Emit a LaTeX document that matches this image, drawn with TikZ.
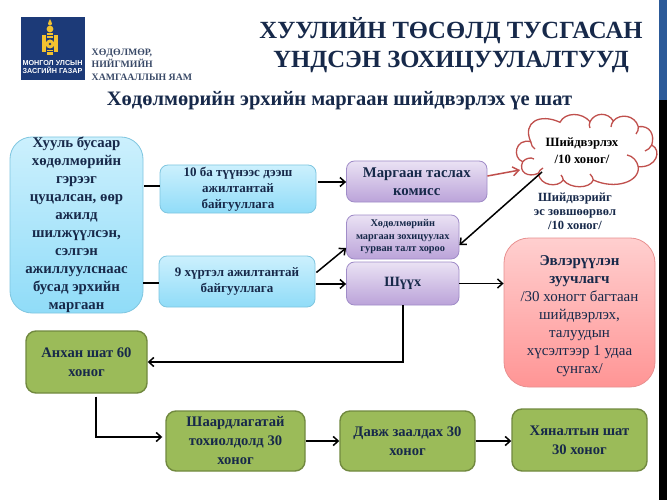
\documentclass[tikz,border=0pt]{standalone}
\usepackage{fontspec}
\setmainfont{Liberation Serif}
\newfontfamily\logosans{Liberation Sans}
\usetikzlibrary{arrows.meta,calc}
\definecolor{navy}{HTML}{17294A}
\definecolor{sidetxt}{HTML}{3A4A68}
\definecolor{logoblue}{HTML}{1C3A78}
\definecolor{logogold}{HTML}{F2C230}
\definecolor{cloudred}{HTML}{C0504D}
\definecolor{stripblue}{HTML}{2C5A98}
\definecolor{bluetop}{HTML}{CCF0FD}
\definecolor{bluebot}{HTML}{90DCF8}
\definecolor{blueedge}{HTML}{7FC6E0}
\definecolor{purpletop}{HTML}{EAE2F4}
\definecolor{purplebot}{HTML}{BBA3D9}
\definecolor{purpleedge}{HTML}{A08CC8}
\definecolor{pinktop}{HTML}{FFCFCF}
\definecolor{pinkbot}{HTML}{FF9595}
\definecolor{pinkedge}{HTML}{E89090}
\definecolor{greenfill}{HTML}{9BBB59}
\definecolor{greenedge}{HTML}{71893F}
\tikzset{
  x=1pt,y=-1pt,
  boxbase/.style={rounded corners=8pt,inner sep=0pt,align=center,text=navy,font=\bfseries\fontsize{13}{16}\selectfont,line width=0.8pt},
  bluebox/.style={boxbase,draw=blueedge,top color=bluetop,bottom color=bluebot},
  srcbox/.style={bluebox,rounded corners=22pt,font=\bfseries\fontsize{14.8}{18}\selectfont},
  purplebox/.style={boxbase,draw=purpleedge,top color=purpletop,bottom color=purplebot},
  pinkbox/.style={boxbase,rounded corners=25pt,draw=pinkedge,top color=pinktop,bottom color=pinkbot,font=\fontsize{15}{18}\selectfont},
  greenbox/.style={boxbase,rounded corners=10pt,draw=greenedge,line width=1.4pt,fill=greenfill,font=\bfseries\fontsize{14.6}{19}\selectfont},
  flow/.style={draw=black,line width=1.5pt,-{Straight Barb[length=5pt,width=9pt,line width=1.5pt]}},
  plainlink/.style={draw=black,line width=1.5pt},
  redflow/.style={draw=cloudred,line width=1.5pt,-{Straight Barb[length=6pt,width=9pt,line width=1.5pt]}},
  cloudline/.style={draw=cloudred,line width=1.3pt},
  plaintext/.style={inner sep=0pt,align=center},
}
\begin{document}
\begin{tikzpicture}
\useasboundingbox (0,0) rectangle (667,500);
\fill[white] (0,0) rectangle (667,500);
% side strip
\fill[black] (659,100) rectangle (667,500);
\fill[stripblue] (659,0) rectangle (667,100);
% logo
\fill[logoblue] (21,17) rectangle (85,80);
\fill[logogold] (42.3,35) rectangle (45.7,52);
\fill[logogold] (54.3,35) rectangle (57.7,52);
\fill[logogold] (50,44) circle (4.5);
\fill[logoblue] (50,44) circle (1.3);
\fill[logogold] (50,29) circle (3.4);
\fill[logogold] (50,23.5) circle (2);
\fill[logogold] (48.6,22) -- (50,19) -- (51.4,22) -- cycle;
\fill[logogold] (47,33.5) rectangle (53,35.5);
\fill[logogold] (47,36.5) rectangle (53,38);
\fill[logogold] (47,50) rectangle (53,51.5);
\fill[logogold] (47,52.5) rectangle (53,55);
\node[plaintext,text=white,font=\logosans\bfseries\fontsize{7.2}{8.4}\selectfont] (logotxt) at (52.5,67) {МОНГОЛ УЛСЫН\\ЗАСГИЙН ГАЗАР};
\node[plaintext,anchor=north west,align=left,text=sidetxt,font=\bfseries\fontsize{9.8}{12.5}\selectfont] (ministry) at (91.5,48.5) {ХӨДӨЛМӨР,\\НИЙГМИЙН\\ХАМГААЛЛЫН ЯАМ};
% titles
\node[plaintext,text=navy,font=\bfseries\fontsize{24.7}{29}\selectfont] (title) at (451,45.5) {ХУУЛИЙН ТӨСӨЛД ТУСГАСАН\\ҮНДСЭН ЗОХИЦУУЛАЛТУУД};
\node[plaintext,text=navy,font=\bfseries\fontsize{20.5}{24}\selectfont] (subtitle) at (339.5,101) {Хөдөлмөрийн эрхийн маргаан шийдвэрлэх үе шат};
% boxes
\node[srcbox,minimum width=133pt,minimum height=176pt] (src) at (76.5,225) {Хууль бусаар\\хөдөлмөрийн\\гэрээг\\цуцалсан, өөр\\ажилд\\шилжүүлсэн,\\сэлгэн\\ажиллуулснаас\\бусад эрхийн\\маргаан};
\node[bluebox,minimum width=156pt,minimum height=48pt] (ten) at (238,189) {10 ба түүнээс дээш\\ажилтантай\\байгууллага};
\node[bluebox,minimum width=156pt,minimum height=51pt] (nine) at (237,281.5) {9 хүртэл ажилтантай\\байгууллага};
\node[purplebox,minimum width=140.5pt,minimum height=41pt,font=\bfseries\fontsize{14.8}{18.3}\selectfont] (comm) at (416.75,181.5) {Маргаан таслах\\комисс};
\node[purplebox,minimum width=112.5pt,minimum height=44pt,font=\bfseries\fontsize{10.3}{12.5}\selectfont] (tri) at (402.75,237) {Хөдөлмөрийн\\маргаан зохицуулах\\гурван талт хороо};
\node[purplebox,minimum width=112.5pt,minimum height=43pt,font=\bfseries\fontsize{14.2}{18}\selectfont] (court) at (402.75,283.5) {Шүүх};
\node[pinkbox,minimum width=151pt,minimum height=149pt] (med) at (579.5,312.5) {\rule{0pt}{18pt}\bfseries Эвлэрүүлэн\\\bfseries зуучлагч\\/30 хоногт багтаан\\шийдвэрлэх,\\талуудын\\хүсэлтээр 1 удаа\\сунгах/};
\node[greenbox,minimum width=121pt,minimum height=62pt] (first) at (86.5,362) {Анхан шат 60\\хоног};
\node[greenbox,minimum width=139pt,minimum height=60pt] (need) at (235.5,441) {Шаардлагатай\\тохиолдолд 30\\хоног};
\node[greenbox,minimum width=135pt,minimum height=60pt] (appeal) at (407.5,441) {Давж заалдах 30\\хоног};
\node[greenbox,minimum width=135pt,minimum height=62pt] (review) at (579.5,440) {Хяналтын шат\\30 хоног};
% cloud
\filldraw[cloudline,fill=white] (530.7,141.7)
  .. controls (515,138) and (512,158) .. (522.7,161.7)
  .. controls (518,172) and (528,178) .. (538.3,173.3)
  .. controls (540,186) and (558,188) .. (563.3,180)
  .. controls (570,189) and (590,189) .. (593.3,180)
  .. controls (615,190) and (640,182) .. (638.3,166.7)
  .. controls (657,168) and (662,150) .. (651.7,145)
  .. controls (655,135) and (650,125) .. (638.3,126.7)
  .. controls (635,115) and (620,113) .. (613.3,121)
  .. controls (608,112) and (595,112) .. (590,121.7)
  .. controls (582,112) and (565,112) .. (560,122.3)
  .. controls (540,113) and (522,122) .. (530.7,141.7) -- cycle;
\draw[cloudline] (522.7,161.7) .. controls (526,158) and (531,157) .. (534,159);
\draw[cloudline] (530.7,141.7) .. controls (531,145) and (533,148) .. (535,149);
\draw[cloudline] (638.3,166.7) .. controls (637,161) and (633,156) .. (627,155);
\draw[cloudline] (651.7,145) .. controls (650,148) and (648,150) .. (645,151);
\draw[cloudline] (638.3,126.7) .. controls (638.5,129) and (638,132) .. (636,134);
\draw[cloudline] (590,121.7) .. controls (589,124) and (589,126) .. (590,128);
\draw[cloudline] (613.3,121) .. controls (612,123) and (611,125) .. (611,127);
\draw[cloudline] (538.3,173.3) .. controls (539,171) and (541,169) .. (543,168);
\draw[cloudline] (563.3,180) .. controls (563,178) and (562,176) .. (561,175);
\draw[cloudline] (593.3,180) .. controls (593,178) and (592,176) .. (590,174);
\coordinate (cloudin) at (520,170);
\coordinate (cloudout) at (542,172);
\node[plaintext,text=black,font=\bfseries\fontsize{12.7}{16.7}\selectfont] (cloudtxt) at (582,150.7) {Шийдвэрлэх\\/10 хоног/};
\node[plaintext,text=navy,font=\bfseries\fontsize{12.5}{14.2}\selectfont] (refuse) at (575,211) {Шийдвэрийг\\эс зөвшөөрвөл\\/10 хоног/};
% connectors
\draw[plainlink] ($(src.east)+(1,-39)$) -- (ten.west |- 0,186);
\draw[plainlink] (src.east |- 0,283) -- (nine.west |- 0,283);
\draw[flow] ($(ten.east)+(2,-7)$) -- (comm.west |- 0,182);
\draw[flow] ($(nine.east)+(1,-9)$) -- (tri.west |- 0,248);
\draw[flow] ($(nine.east)+(1,2.5)$) -- (court.west |- 0,284);
\draw[redflow] (comm.east |- 0,176) -- (cloudin);
\draw[flow] (cloudout) -- (tri.east |- 0,245);
\draw[flow] (court.east) -- (med.west |- court.east);
\draw[flow] (court.south) -- (court.south |- first.east) -- (first.east);
\draw[flow] ($(first.south)+(9.5,3)$) |- ($(need.west)+(-3,-4)$);
\draw[flow] (need.east) -- (appeal.west);
\draw[flow] (appeal.east) -- (review.west |- appeal.east);
\end{tikzpicture}
\end{document}
